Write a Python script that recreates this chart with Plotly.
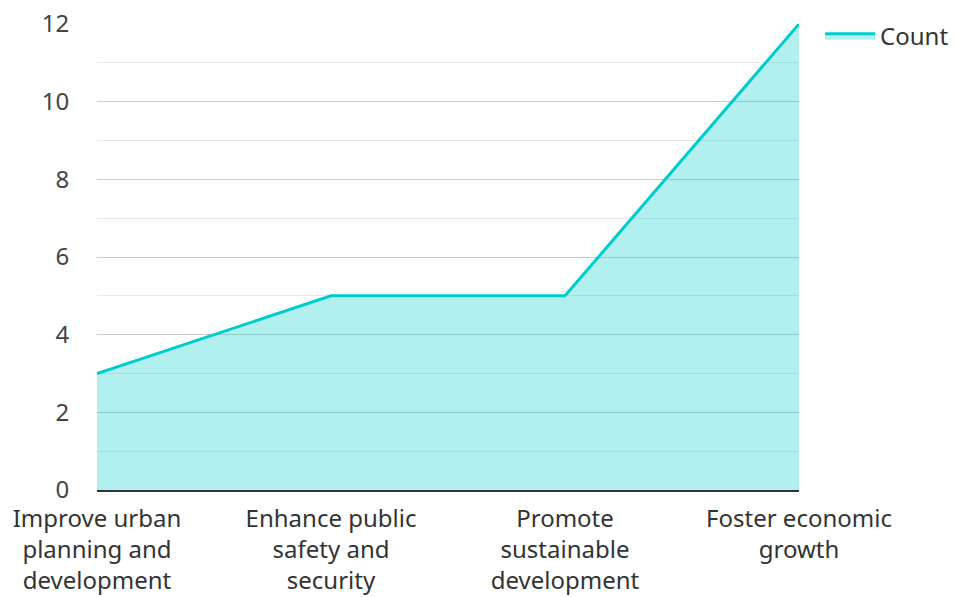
import plotly.graph_objects as go

categories = ["Improve urban<br>planning and<br>development", "Enhance public<br>safety and<br>security",
              "Promote<br>sustainable<br>development", "Foster economic<br>growth"]
counts = [3, 5, 5, 12]
positions = [0, 1, 2, 3]

fig = go.Figure()
fig.add_trace(go.Scatter(
    x=positions, y=counts, name="Count", mode="lines",
    line=dict(color="#00cccc", width=3),
    fill="tozeroy", fillcolor="rgba(0,204,204,0.3)",
))
fig.update_layout(
    width=956, height=597,
    margin=dict(l=97, r=157, t=24, b=107, autoexpand=False),
    paper_bgcolor="white", plot_bgcolor="white",
    font=dict(family="Noto Sans", size=24, color="#333"),
    showlegend=True,
    legend=dict(x=1.03, y=1.022, xanchor="left", yanchor="top", itemwidth=50,
                font=dict(size=24, color="#333")),
    xaxis=dict(range=[0, 3], tickvals=positions, ticktext=categories, showgrid=False,
               zeroline=False, showline=True, linecolor="#333", linewidth=2,
               ticks="outside", ticklen=6, tickcolor="rgba(0,0,0,0)", automargin=False),
    yaxis=dict(range=[0, 12], dtick=2, showgrid=True, gridcolor="#cccccc", gridwidth=1,
               zeroline=False, ticks="outside", ticklen=22, tickcolor="rgba(0,0,0,0)",
               tickfont=dict(color="#444"), automargin=False,
               minor=dict(dtick=1, showgrid=True, gridcolor="#e8e8e8", ticks="")),
)
fig.write_html("out.html")
